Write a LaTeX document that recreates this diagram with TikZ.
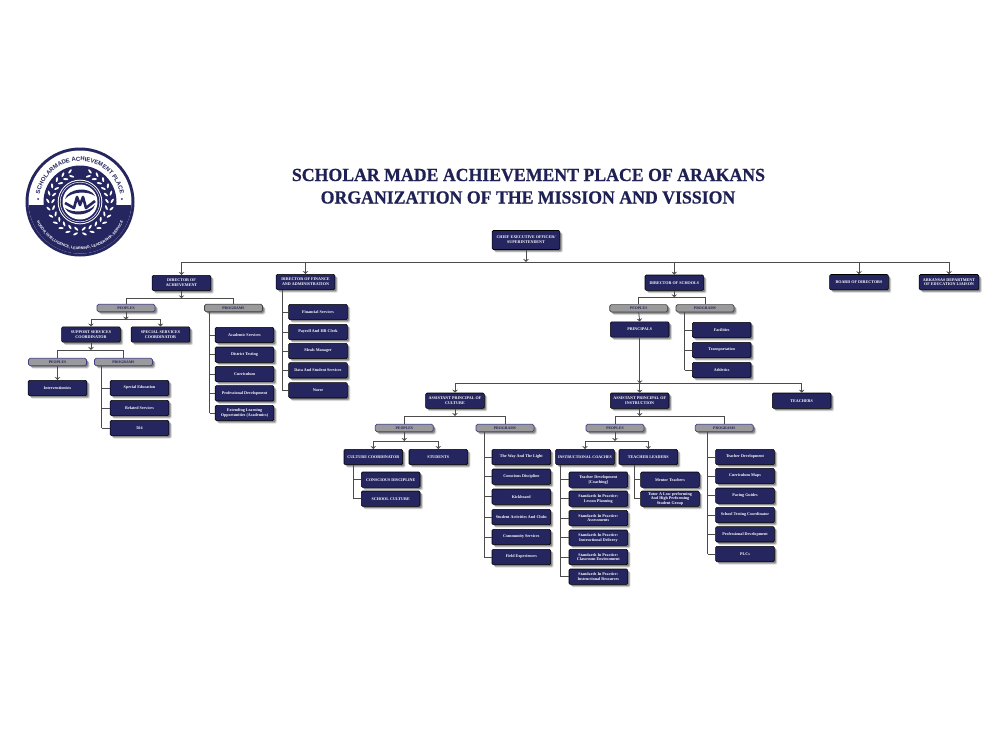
\documentclass[tikz,border=0pt]{standalone}
\usepackage{fontspec}
\setmainfont{Liberation Serif}
\newfontfamily\titlefont[FakeStretch=0.96,FakeBold=0.6]{Liberation Serif}
\newfontfamily\logofont{Liberation Sans}
\usetikzlibrary{arrows.meta,shadows,decorations.text}
\definecolor{navy}{HTML}{25255F}
\definecolor{ink}{HTML}{1F2154}
\definecolor{pillgrey}{HTML}{9A9A9C}
\definecolor{pilledge}{HTML}{3F3F80}
\definecolor{wire}{HTML}{4C4C4C}
\tikzset{
  softshadow/.style={
    drop shadow={shadow xshift=3pt,shadow yshift=-3pt,opacity=.10,fill=black},
    drop shadow={shadow xshift=2.3pt,shadow yshift=-2.3pt,opacity=.18,fill=black},
    drop shadow={shadow xshift=1.5pt,shadow yshift=-1.5pt,opacity=.28,fill=black}},
  box/.style={softshadow,draw=black,line width=.55pt,fill=navy,rounded corners=1.2pt,
    minimum width=58.6pt,minimum height=15.4pt,inner sep=0pt,align=center,text=white,
    font=\fontsize{4.1}{4.7}\selectfont\bfseries},
  pill/.style={softshadow,draw=pilledge,line width=.7pt,fill=pillgrey,rounded corners=1.6pt,
    minimum width=58pt,minimum height=7.4pt,inner sep=0pt,text=ink,
    font=\fontsize{3.8}{4.4}\selectfont\bfseries},
  darkpill/.style={pill,draw=black!75},
  link/.style={draw=wire,line width=.8pt},
  arr/.style={link,-{Stealth[length=3pt,width=5.5pt,inset=1.1pt]}},
  leaf/.style={fill=white},
}
\newcommand{\branch}[3]{%
  \coordinate (tr) at (#2,0);
  \foreach \c in {#3}{\draw[link] (tr |- \c.west) -- (\c.west); \xdef\lastc{\c}}
  \draw[link] (tr |- #1.south) -- (tr |- \lastc.west);}
\begin{document}
\begin{tikzpicture}[x=1pt,y=-1pt]
\useasboundingbox (0,0) rectangle (1000,750);
\fill[white] (0,0) rectangle (1000,750);

% logo
\begin{scope}[shift={(80,202)},x=1pt,y=1pt]
  \fill[navy] (0,0) circle (54.5);
  \fill[white] (0,0) circle (51.5);
  \fill[navy] (-51.4,-3) arc[start angle=183.3,end angle=356.7,radius=51.5] -- cycle;
  \fill[navy] (0,0) circle (36.5);
  \foreach \s in {1,-1}{
    \begin{scope}[xscale=\s]
      \foreach \a in {-82,-68,...,84}{
        \fill[leaf,shift={(\a:32.2)},rotate=\a+55] (0,0) ellipse (2.6 and 1);
        \fill[leaf,shift={(\a:27)},rotate=\a+125] (0,0) ellipse (2.6 and 1);
      }
    \end{scope}}
  \fill[white] (0,0) circle (22.3);
  \fill[navy] (0,0) circle (21.3);
  \draw[white,line width=.5pt] (0,0) circle (19.8);
  \fill[white] (0,0) circle (17.5);
  % monogram
  \fill[navy] (-15,3) .. controls (-12,14) and (10,16) .. (15,6) .. controls (8,11) and (-8,11) .. cycle;
  \fill[navy] (15,-3) .. controls (12,-14) and (-10,-16) .. (-15,-6) .. controls (-8,-11) and (8,-11) .. cycle;
  \draw[navy,line width=2.6pt,line join=round] (-15,-1) -- (-6,-6) -- (-3,5) -- (0,-3) -- (3,5) -- (6,-6) -- (15,1);
  \path[decorate,decoration={text along path,text align=center,
     text={|\logofont\bfseries\fontsize{5.9}{7}\selectfont\color{ink}|SCHOLARMADE ACHIEVEMENT PLACE}}]
     (172:41) arc[start angle=172,end angle=8,radius=41];
  \path[decorate,decoration={text along path,text align=center,
     text={|\logofont\bfseries\fontsize{3.7}{5}\selectfont\color{white}|HONOR, INTELLIGENCE, LEARNING, LEADERSHIP, SERVICE}}]
     (188:47.5) arc[start angle=188,end angle=352,radius=47.5];
  \fill[navy] (176:42) circle (1);
  \fill[navy] (4:42) circle (1);
\end{scope}

% title
\node[text=ink,font=\titlefont\bfseries\fontsize{18.5}{24}\selectfont,anchor=base] (t1) at (528.5,181) {SCHOLAR MADE ACHIEVEMENT PLACE OF ARAKANS};
\node[text=ink,font=\titlefont\bfseries\fontsize{18.5}{24}\selectfont,anchor=base] (t2) at (528,203.5) {ORGANIZATION OF THE MISSION AND VISSION};

% top level
\node[box,minimum width=67.7pt,minimum height=19pt] (ceo) at (526,240) {CHIEF EXECUTIVE OFFICER/\\SUPERINTENDENT};
\node[box] (dach) at (181.5,283) {DIRECTOR OF\\ACHIEVEMENT};
\node[box] (dfin) at (305.5,282) {DIRECTOR OF FINANCE\\AND ADMINISTRATION};
\node[box] (dsch) at (674.3,282.7) {DIRECTOR OF SCHOOLS};
\node[box] (bod) at (859,282.2) {BOARD OF DIRECTORS};
\node[box,minimum width=59.6pt] (ade) at (949,282.2) {ARKANSAS DEPARTMENT\\OF EDUCATION LIAISON};

% achievement
\node[pill] (ap) at (126,308) {PEOPLES};
\node[darkpill] (apr) at (233.5,308) {PROGRAMS};
\node[box] (ssc) at (91,334.5) {SUPPORT SERVICES\\COORDINATOR};
\node[box] (spc) at (160.5,334.5) {SPECIAL SERVICES\\COORDINATOR};
\node[pill] (sp) at (57.5,362) {PEOPLES};
\node[pill] (spr) at (123.5,362) {PROGRAMS};
\node[box] (int) at (57.5,388) {Interventionists};
\node[box] (sed) at (139.5,388) {Special Education};
\node[box] (rel) at (139.5,408) {Related Services};
\node[box] (sec) at (139.5,428) {504};
\node[box] (aca) at (244.5,335) {Academic Services};
\node[box] (dte) at (244.5,354.7) {District Testing};
\node[box] (cur) at (244.5,374) {Curriculum};
\node[box] (pro) at (244.5,393.3) {Professional Development};
\node[box] (ext) at (244.5,413) {Extending Learning\\Opportunities (Academics)};

% finance
\node[box] (fin) at (318,312) {Financial Services};
\node[box] (pay) at (318,332) {Payroll And HR Clerk};
\node[box] (mea) at (318,351) {Meals Manager};
\node[box] (dat) at (318,370.3) {Data And Student Services};
\node[box] (nur) at (318,390.3) {Nurse};

% schools
\node[darkpill] (dp) at (638.7,308.3) {PEOPLES};
\node[darkpill] (dpr) at (705,308.3) {PROGRAMS};
\node[box] (pri) at (639.7,329.5) {PRINCIPALS};
\node[box] (fac) at (721.7,330) {Facilities};
\node[box] (tra) at (721.7,350) {Transportation};
\node[box] (ath) at (721.7,370) {Athletics};

% assistant principals
\node[box] (apc) at (455,400.7) {ASSISTANT PRINCIPAL OF\\CULTURE};
\node[box] (api) at (639.7,400.7) {ASSISTANT PRINCIPAL OF\\INSTRUCTION};
\node[box] (tea) at (801.7,400.7) {TEACHERS};

% culture
\node[pill] (cp) at (404.3,428) {PEOPLES};
\node[pill] (cpr) at (505,428) {PROGRAMS};
\node[box] (cco) at (373.3,457) {CULTURE COORDINATOR};
\node[box] (stu) at (438.3,457) {STUDENTS};
\node[box] (con) at (390.7,479.7) {CONSCIOUS DISCIPLINE};
\node[box] (sch) at (390.7,498.7) {SCHOOL CULTURE};
\node[box] (way) at (521.3,457) {The Way And The Light};
\node[box] (cdi) at (521.3,476.7) {Conscious Discipline};
\node[box] (kic) at (521.3,496.7) {Kickboard};
\node[box] (sac) at (521.3,517) {Student Activities And Clubs};
\node[box] (com) at (521.3,537) {Community Services};
\node[box] (fie) at (521.3,557) {Field Experiences};

% instruction
\node[pill] (ip) at (615,428) {PEOPLES};
\node[pill] (ipr) at (724.3,428) {PROGRAMS};
\node[box,font=\fontsize{3.95}{4.7}\selectfont\bfseries] (ico) at (585,457) {INSTRUCTIONAL COACHES};
\node[box] (tle) at (648.3,457) {TEACHER LEADERS};
\node[box] (tde) at (598.3,479.7) {Teacher Development\\{[}Coaching{]}};
\node[box] (s1) at (598.3,498.7) {Standards In Practice:\\Lesson Planning};
\node[box] (s2) at (598.3,518) {Standards In Practice:\\Assessments};
\node[box] (s3) at (598.3,537.7) {Standards In Practice:\\Instructional Delivery};
\node[box] (s4) at (598.3,557) {Standards In Practice:\\Classroom Environment};
\node[box] (s5) at (598.3,576.7) {Standards In Practice:\\Instructional Resources};
\node[box] (men) at (670,479.7) {Mentor Teachers};
\node[box,font=\fontsize{4.1}{4.3}\selectfont\bfseries] (tut) at (670,498.7) {Tutor A Low performing\\And High Performing\\Student Group};
\node[box] (ite) at (745,457) {Teacher Development};
\node[box] (ima) at (745,476) {Curriculum Maps};
\node[box] (ipa) at (745,495.7) {Pacing Guides};
\node[box] (ist) at (745,515) {School Testing Coordinator};
\node[box] (ipd) at (745,534.3) {Professional Development};
\node[box] (ipl) at (745,554) {PLCs};

% buses
\coordinate (b0) at (526,262);
\coordinate (b1) at (181.5,298.3);
\coordinate (b2) at (126,319.7);
\coordinate (b3) at (91,350);
\coordinate (b4) at (674.3,297.3);
\coordinate (b5) at (639.7,383.3);
\coordinate (b6) at (455,416);
\coordinate (b7) at (404.3,441);
\coordinate (b8) at (639.7,416);
\coordinate (b9) at (615,441);

\draw[arr] (ceo.south) -- (b0);
\foreach \n in {dach,dfin,dsch,bod,ade}{\draw[arr] (b0) -| (\n.north);}

\draw[arr] (dach.south) -- (b1);
\draw[link] (b1) -| (ap.north);
\draw[link] (b1) -| (apr.north);
\draw[arr] (ap.south) -- (b2);
\draw[arr] (b2) -| (ssc.north);
\draw[arr] (b2) -| (spc.north);
\draw[arr] (ssc.south) -- (b3);
\draw[link] (b3) -| (sp.north);
\draw[link] (b3) -| (spr.north);
\draw[arr] (sp.south) -- (int.north);
\branch{spr}{101.7}{sed,rel,sec}
\branch{apr}{209.7}{aca,dte,cur,pro,ext}
\branch{dfin}{282}{fin,pay,mea,dat,nur}

\draw[arr] (dsch.south) -- (b4);
\draw[link] (b4) -| (dp.north);
\draw[link] (b4) -| (dpr.north);
\draw[arr] (dp.south) -- (pri.north);
\branch{dpr}{684.7}{fac,tra,ath}
\draw[arr] (pri.south) -- (b5);
\foreach \n in {apc,api,tea}{\draw[arr] (b5) -| (\n.north);}

\draw[arr] (apc.south) -- (b6);
\draw[link] (b6) -| (cp.north);
\draw[link] (b6) -| (cpr.north);
\draw[arr] (cp.south) -- (b7);
\draw[arr] (b7) -| (cco.north);
\draw[arr] (b7) -| (stu.north);
\branch{cco}{353.7}{con,sch}
\branch{cpr}{484.3}{way,cdi,kic,sac,com,fie}

\draw[arr] (api.south) -- (b8);
\draw[link] (b8) -| (ip.north);
\draw[link] (b8) -| (ipr.north);
\draw[arr] (ip.south) -- (b9);
\draw[arr] (b9) -| (ico.north);
\draw[arr] (b9) -| (tle.north);
\branch{ico}{560.7}{tde,s1,s2,s3,s4,s5}
\branch{tle}{634.3}{men,tut}
\branch{ipr}{707.7}{ite,ima,ipa,ist,ipd,ipl}
\end{tikzpicture}
\end{document}
